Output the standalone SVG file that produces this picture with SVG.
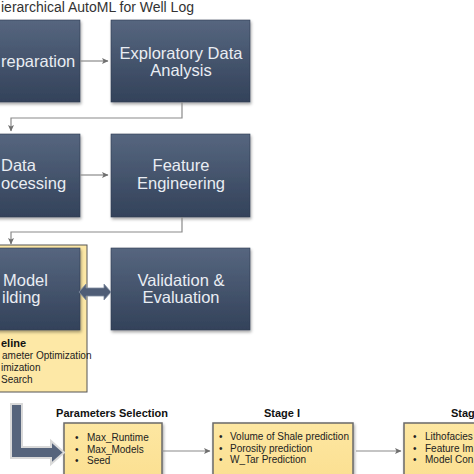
<svg xmlns="http://www.w3.org/2000/svg" width="474" height="474" viewBox="0 0 474 474">
<defs>
<linearGradient id="dark" x1="0" y1="0" x2="0" y2="1">
<stop offset="0" stop-color="#56667f"/>
<stop offset="1" stop-color="#33425a"/>
</linearGradient>
<linearGradient id="yel" x1="0" y1="0" x2="0" y2="1">
<stop offset="0" stop-color="#fde7a2"/>
<stop offset="1" stop-color="#fbdf90"/>
</linearGradient>
<filter id="sh" x="-10%" y="-10%" width="130%" height="130%">
<feDropShadow dx="1" dy="2" stdDeviation="1.5" flood-color="#000" flood-opacity="0.35"/>
</filter>
<marker id="ah" markerWidth="7" markerHeight="6" refX="6" refY="3" orient="auto" markerUnits="userSpaceOnUse">
<path d="M0,0 L6.5,3 L0,6 L1.5,3 z" fill="#6f6f6f"/>
</marker>
</defs>
<style>
.box{fill:url(#dark);stroke:#2c3a50;stroke-width:0.6;filter:url(#sh)}
.bt{font-family:"Liberation Sans",Arial,sans-serif;font-size:16.5px;fill:#e9edf3}
.ybox{fill:url(#yel);stroke:#6a6a6a;stroke-width:1.5;filter:url(#sh)}
.li{font-family:"Liberation Sans",Arial,sans-serif;font-size:10px;fill:#222}
.hd{font-family:"Liberation Sans",Arial,sans-serif;font-size:11px;font-weight:bold;fill:#111}
.conn{fill:none;stroke:#8a8a8a;stroke-width:1.2;marker-end:url(#ah)}
</style>
<rect width="474" height="474" fill="#fff"/>
<text x="1" y="12" font-family="Liberation Sans,Arial,sans-serif" font-size="14" fill="#333">ierarchical AutoML for Well Log</text>

<g id="container">
<rect x="-2" y="245" width="89" height="147" fill="#fde8a6" stroke="#555" stroke-width="1"/>
<text x="1" y="347" class="hd">eline</text>
<text x="2" y="359" class="li" font-size="9.5">ameter Optimization</text>
<text x="1" y="371" class="li" font-size="9.5">imization</text>
<text x="1" y="383" class="li" font-size="9.5">Search</text>
</g>

<g id="n1"><rect class="box" x="-10" y="20" width="90" height="82"/><text class="bt" x="1" y="67">reparation</text></g>
<g id="n2"><rect class="box" x="111" y="20" width="139" height="82"/><text class="bt" x="181" y="59" text-anchor="middle">Exploratory Data</text><text class="bt" x="181" y="76" text-anchor="middle">Analysis</text></g>
<g id="n3"><rect class="box" x="-10" y="134" width="90" height="83"/><text class="bt" x="1" y="171">Data</text><text class="bt" x="1" y="189">ocessing</text></g>
<g id="n4"><rect class="box" x="111" y="134" width="139" height="83"/><text class="bt" x="181" y="171" text-anchor="middle">Feature</text><text class="bt" x="181" y="189" text-anchor="middle">Engineering</text></g>
<g id="n5"><rect class="box" x="-10" y="248" width="90" height="82"/><text class="bt" x="3" y="286">Model</text><text class="bt" x="2" y="303">ilding</text></g>
<g id="n6"><rect class="box" x="111" y="248" width="139" height="82"/><text class="bt" x="181" y="286" text-anchor="middle">Validation &amp;</text><text class="bt" x="181" y="303" text-anchor="middle">Evaluation</text></g>

<g id="p1"><text class="hd" x="112" y="417" text-anchor="middle">Parameters Selection</text><rect class="ybox" x="64" y="423" width="98" height="60"/>
<text class="li" x="75" y="441">•</text><text class="li" x="87" y="441">Max_Runtime</text>
<text class="li" x="75" y="452.5">•</text><text class="li" x="87" y="452.5">Max_Models</text>
<text class="li" x="75" y="464">•</text><text class="li" x="87" y="464">Seed</text></g>
<g id="p2"><text class="hd" x="282" y="417" text-anchor="middle">Stage I</text><rect class="ybox" x="213" y="423" width="140" height="60"/>
<text class="li" x="219" y="440">•</text><text class="li" x="230" y="440">Volume of Shale prediction</text>
<text class="li" x="219" y="451.5">•</text><text class="li" x="230" y="451.5">Porosity prediction</text>
<text class="li" x="219" y="463">•</text><text class="li" x="230" y="463">W_Tar Prediction</text></g>
<g id="p3"><text class="hd" x="451" y="417">Stag</text><rect class="ybox" x="404" y="423" width="80" height="60"/>
<text class="li" x="413" y="440">•</text><text class="li" x="425" y="440">Lithofacies</text>
<text class="li" x="413" y="451.5">•</text><text class="li" x="425" y="451.5">Feature Im</text>
<text class="li" x="413" y="463">•</text><text class="li" x="425" y="463">Model Con</text></g>

<g id="connectors">
<path class="conn" d="M80,61 H108"/>
<path class="conn" d="M182,102 V118 H11 V131"/>
<path class="conn" d="M80,175 H108"/>
<path class="conn" d="M182,217 V232 H11 V244"/>
<path class="conn" d="M162,451 H210"/>
<path class="conn" d="M356,451 H401"/>
<path d="M79,292 L86,284 L86,288 L104,288 L104,284 L111,292 L104,300 L104,296 L86,296 L86,300 z" fill="#4f5d76" stroke="#7f8ca0" stroke-width="0.8"/>
<path d="M11,404 L22,404 L22,447 L51,447 L51,441 L64,452.5 L51,464 L51,458 L11,458 z" fill="#56647c" stroke="#d9d9d9" stroke-width="2"/>
</g>
</svg>
